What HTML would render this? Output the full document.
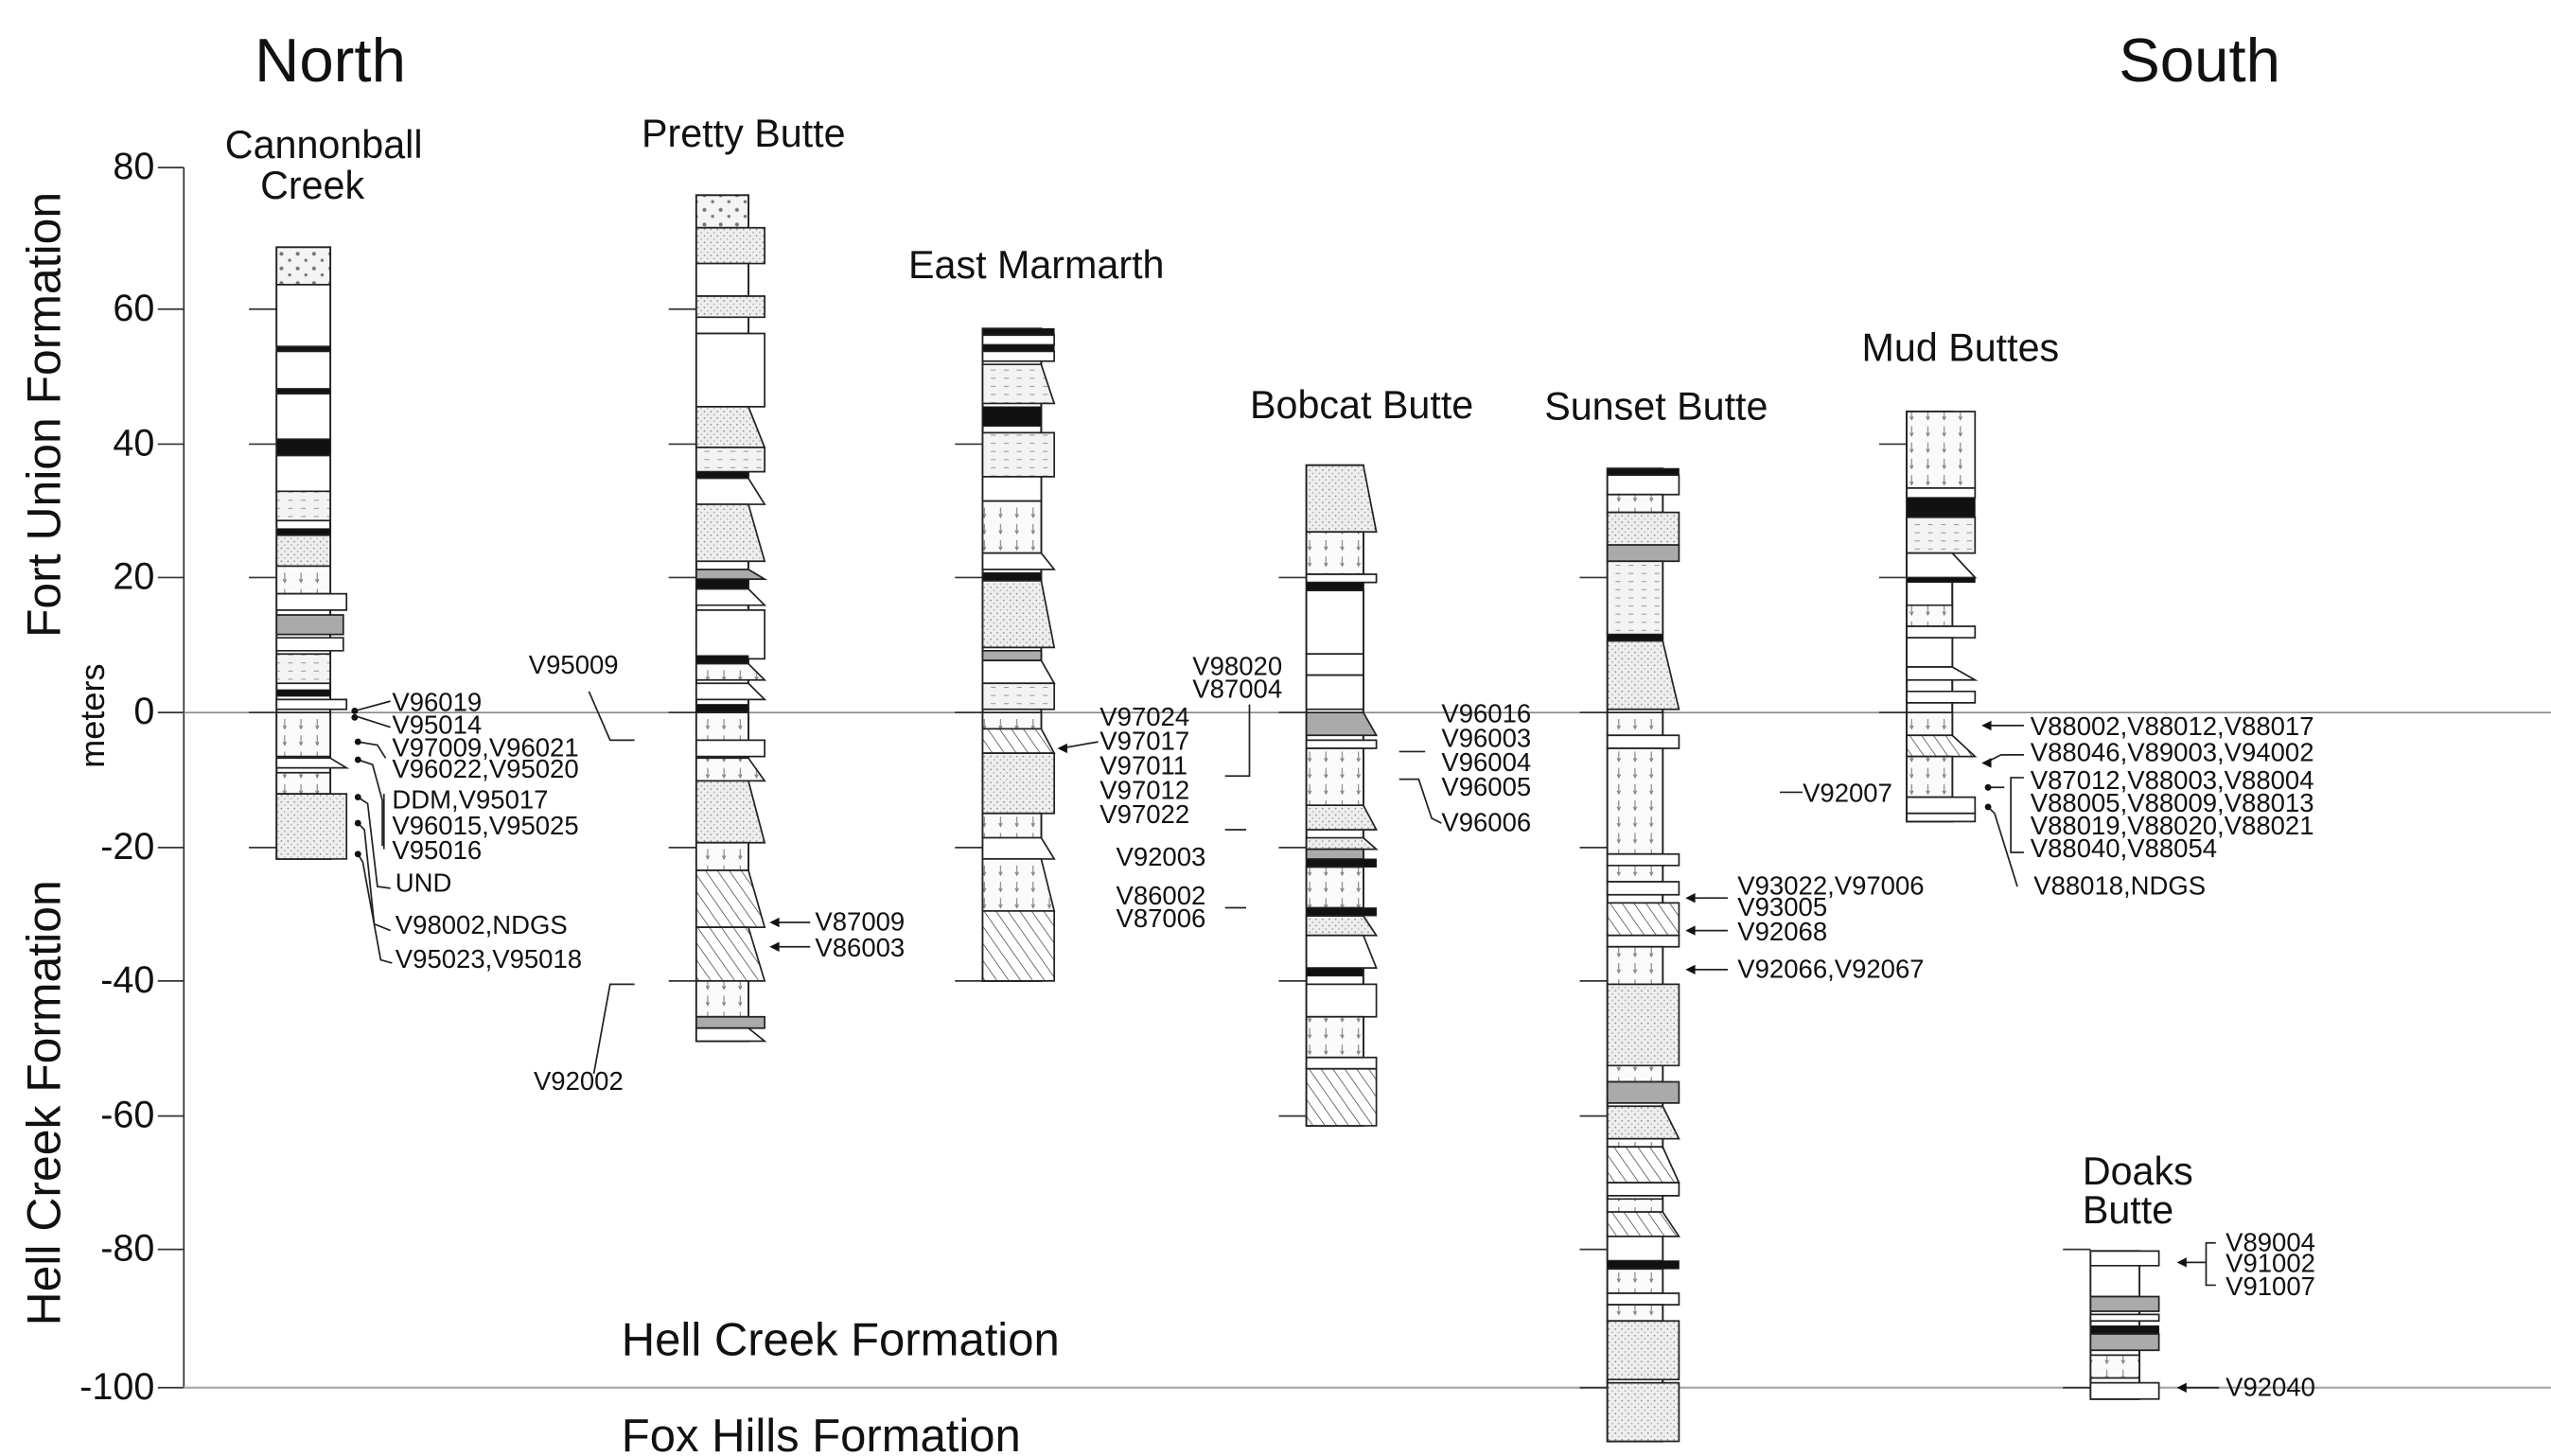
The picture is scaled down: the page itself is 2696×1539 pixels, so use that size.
<!DOCTYPE html>
<html><head><meta charset="utf-8"><style>
html,body{margin:0;padding:0;background:#fff;}
svg{display:block;}
text{font-family:"Liberation Sans",Arial,sans-serif;fill:#111;}
</style></head><body>
<svg id="s" width="2696" height="1539" viewBox="0 0 1568 895" preserveAspectRatio="none" xmlns="http://www.w3.org/2000/svg">
<defs>
<pattern id="st" width="4" height="4" patternUnits="userSpaceOnUse"><rect width="4" height="4" fill="#eee"/><circle cx="1" cy="1" r="0.5" fill="#888"/><circle cx="3" cy="3" r="0.5" fill="#aaa"/></pattern>
<pattern id="cg" width="10" height="9" patternUnits="userSpaceOnUse"><rect width="10" height="9" fill="#f4f4f4"/><circle cx="3" cy="3" r="1.2" fill="#777"/><circle cx="8" cy="7" r="1" fill="#777"/></pattern>
<pattern id="ht" width="6" height="6" patternUnits="userSpaceOnUse" patternTransform="rotate(-35)"><rect width="6" height="6" fill="#fff"/><line x1="0" y1="0" x2="0" y2="6" stroke="#333" stroke-width="0.8"/></pattern>
<pattern id="rt" width="10" height="10" patternUnits="userSpaceOnUse"><rect width="10" height="10" fill="#fafafa"/><line x1="5" y1="2" x2="5" y2="7" stroke="#777" stroke-width="0.6"/><path d="M4 6 L5 8 L6 6" fill="none" stroke="#777" stroke-width="0.6"/></pattern>
<pattern id="ds" width="8" height="5" patternUnits="userSpaceOnUse"><rect width="8" height="5" fill="#f3f3f3"/><line x1="1" y1="2.5" x2="4" y2="2.5" stroke="#999" stroke-width="0.6"/></pattern>
</defs>
<rect width="1568" height="895" fill="#fff"/>
<g stroke="#333" stroke-width="1" fill="none">
<line x1="113" y1="103" x2="113" y2="853"/>
<line x1="97" y1="103" x2="113" y2="103"/><line x1="97" y1="190" x2="113" y2="190"/><line x1="97" y1="273" x2="113" y2="273"/><line x1="97" y1="355" x2="113" y2="355"/><line x1="97" y1="438" x2="113" y2="438"/><line x1="97" y1="521" x2="113" y2="521"/><line x1="97" y1="603" x2="113" y2="603"/><line x1="97" y1="686" x2="113" y2="686"/><line x1="97" y1="768" x2="113" y2="768"/><line x1="97" y1="853" x2="113" y2="853"/>
</g>
<line x1="113" y1="438" x2="1568" y2="438" stroke="#888" stroke-width="0.9"/>
<line x1="113" y1="853" x2="1568" y2="853" stroke="#aaa" stroke-width="1.3"/>
<g font-size="23" text-anchor="end">
<text x="95" y="110">80</text><text x="95" y="197">60</text><text x="95" y="280">40</text><text x="95" y="362">20</text><text x="95" y="445">0</text><text x="95" y="528">-20</text><text x="95" y="610">-40</text><text x="95" y="693">-60</text><text x="95" y="775">-80</text><text x="95" y="860">-100</text>
</g>
<text transform="translate(37,255) rotate(-90)" font-size="29" text-anchor="middle">Fort Union Formation</text>
<text transform="translate(37,678) rotate(-90)" font-size="29" text-anchor="middle">Hell Creek Formation</text>
<text transform="translate(64,440) rotate(-90)" font-size="21" text-anchor="middle">meters</text>
<text x="203" y="50" font-size="38" text-anchor="middle">North</text>
<text x="1352" y="50" font-size="38" text-anchor="middle">South</text>
<g font-size="24" text-anchor="middle">
<text x="199" y="97">Cannonball</text><text x="192" y="122">Creek</text>
<text x="457" y="90">Pretty Butte</text>
<text x="637" y="171">East Marmarth</text>
<text x="837" y="257">Bobcat Butte</text>
<text x="1018" y="258">Sunset Butte</text>
<text x="1205" y="222">Mud Buttes</text>
</g>
<text x="1280" y="728" font-size="24">Doaks</text><text x="1280" y="752" font-size="24">Butte</text>
<text x="382" y="833" font-size="28.5">Hell Creek Formation</text>
<text x="382" y="892" font-size="28.5">Fox Hills Formation</text>
<g id="cols"></g>
<g font-size="16">
<text x="241" y="437">V96019</text><text x="241" y="451">V95014</text>
<text x="241" y="465">V97009,V96021</text><text x="241" y="478">V96022,V95020</text>
<text x="241" y="497">DDM,V95017</text><text x="241" y="513">V96015,V95025</text><text x="241" y="528">V95016</text>
<text x="243" y="548">UND</text><text x="243" y="574">V98002,NDGS</text><text x="243" y="595">V95023,V95018</text>
<text x="325" y="414">V95009</text><text x="328" y="670">V92002</text>
<text x="501" y="572">V87009</text><text x="501" y="588">V86003</text>
<text x="676" y="446">V97024</text><text x="676" y="461">V97017</text><text x="676" y="476">V97011</text><text x="676" y="491">V97012</text><text x="676" y="506">V97022</text>
<text x="686" y="532">V92003</text><text x="686" y="556">V86002</text><text x="686" y="570">V87006</text>
<text x="733" y="415">V98020</text><text x="733" y="429">V87004</text>
<text x="886" y="444">V96016</text><text x="886" y="459">V96003</text><text x="886" y="474">V96004</text><text x="886" y="489">V96005</text><text x="886" y="511">V96006</text>
<text x="1068" y="550">V93022,V97006</text><text x="1068" y="563">V93005</text><text x="1068" y="578">V92068</text><text x="1068" y="601">V92066,V92067</text>
<text x="1108" y="493">V92007</text>
<text x="1248" y="452">V88002,V88012,V88017</text><text x="1248" y="468">V88046,V89003,V94002</text>
<text x="1248" y="485">V87012,V88003,V88004</text><text x="1248" y="499">V88005,V88009,V88013</text><text x="1248" y="513">V88019,V88020,V88021</text><text x="1248" y="527">V88040,V88054</text>
<text x="1250" y="550">V88018,NDGS</text>
<text x="1368" y="769">V89004</text><text x="1368" y="782">V91002</text><text x="1368" y="796">V91007</text>
<text x="1368" y="858">V92040</text>
</g>
<g stroke="#222" stroke-width="1" fill="none">
<path d="M218 437 L240 431"/><path d="M218 440 L240 447"/>
<path d="M220 456 L232 458 L237 466"/><path d="M220 467 L229 470 L235 492 L235 520"/>
<path d="M220 490 L226 494 L232 545 L240 546"/><path d="M220 506 L224 510 L230 568 L240 572"/><path d="M220 525 L223 530 L234 590 L241 592"/>
<path d="M236 488 L236 522"/>
<path d="M362 425 L375 455 L390 455"/><path d="M365 660 L375 605 L390 605"/>
<path d="M475 567 L498 567"/><path d="M475 582 L498 582"/>
<path d="M652 460 L675 456"/>
<path d="M768 433 L768 477 L753 477"/><path d="M753 510 L766 510"/><path d="M753 558 L766 558"/>
<path d="M860 462 L876 462"/><path d="M860 479 L872 479 L880 503 L886 506"/>
<path d="M1038 552 L1062 552"/><path d="M1038 572 L1062 572"/><path d="M1038 596 L1062 596"/>
<path d="M1094 487 L1108 487"/>
<path d="M1220 446 L1244 446"/><path d="M1220 469 L1230 464 L1244 464"/>
<path d="M1222 484 L1232 484"/><path d="M1222 496 L1226 500 L1240 545"/>
<path d="M1244 478 L1236 478 L1236 524 L1244 524"/>
<path d="M1340 776 L1356 776"/><path d="M1362 764 L1356 764 L1356 790 L1362 790"/>
<path d="M1340 853 L1364 853"/>
</g>
<g fill="#111">
<circle cx="218" cy="437" r="2"/><circle cx="218" cy="441" r="2"/><circle cx="220" cy="456" r="2"/><circle cx="220" cy="467" r="2"/><circle cx="220" cy="490" r="2"/><circle cx="220" cy="506" r="2"/><circle cx="220" cy="525" r="2"/>
<path d="M473 567 l6 -3 v6z"/><path d="M473 582 l6 -3 v6z"/><path d="M650 460 l6 -3 v6z"/>
<path d="M1036 552 l6 -3 v6z"/><path d="M1036 572 l6 -3 v6z"/><path d="M1036 596 l6 -3 v6z"/>
<path d="M1218 446 l6 -3 v6z"/><path d="M1218 469 l6 -3 v6z"/><circle cx="1222" cy="484" r="2"/><circle cx="1222" cy="496" r="2"/>
<path d="M1338 776 l6 -3 v6z"/><path d="M1338 853 l6 -3 v6z"/>
</g>
</svg>
<script>
var NS="http://www.w3.org/2000/svg",g=document.getElementById("cols");
function el(t,a){var e=document.createElementNS(NS,t);for(var k in a)e.setAttribute(k,a[k]);g.appendChild(e);return e;}
var F={w:"#fff",s:"url(#st)",c:"url(#cg)",h:"url(#ht)",r:"url(#rt)",d:"url(#ds)",k:"#111",g:"#aaa"};
var C=[
[170,33,[190,273,355,438,521],[[152,175,0,'c'],[175,213,0,'w'],[213,216,0,'k'],[216,239,0,'w'],[239,242,0,'k'],[242,270,0,'w'],[270,280,0,'k'],[280,302,0,'w'],[302,320,0,'d'],[325,329,0,'k'],[329,348,0,'s'],[348,365,0,'r'],[365,375,10,'w'],[378,390,8,'g'],[392,400,8,'w'],[402,420,0,'d'],[424,428,0,'k'],[430,436,10,'w'],[438,465,0,'r'],[466,472,10,'w',1],[475,488,0,'r'],[488,528,10,'s']]],
[428,32,[190,273,355,438,521,603],[[120,140,0,'c'],[140,162,10,'s'],[162,182,0,'w'],[182,195,10,'s'],[195,205,0,'w'],[205,250,10,'w'],[250,275,10,'s',1],[275,290,10,'d'],[290,294,0,'k'],[294,310,10,'w',1],[310,345,10,'s',1],[350,356,10,'g',1],[356,362,0,'k'],[362,372,10,'w',1],[375,405,10,'w'],[403,408,0,'k'],[408,418,10,'r',1],[420,430,10,'w',1],[433,438,0,'k'],[438,455,0,'r'],[455,465,10,'w'],[466,480,10,'r',1],[480,518,10,'s',1],[518,535,0,'r'],[535,570,10,'h',1],[570,603,10,'h',1],[603,625,0,'r'],[625,632,10,'g'],[632,640,10,'w',1]]],
[604,36,[273,355,438,521,603],[[202,206,8,'k'],[206,212,8,'w'],[212,216,8,'k'],[216,222,8,'w'],[224,248,8,'d',1],[250,262,0,'k'],[266,293,8,'d'],[293,308,0,'w'],[308,340,0,'r'],[340,350,8,'w',1],[352,357,0,'k'],[357,398,8,'s',1],[400,406,0,'g'],[406,420,8,'w',1],[420,436,8,'d'],[438,448,0,'r'],[448,463,8,'h',1],[463,500,8,'s'],[500,515,0,'r'],[515,528,8,'w',1],[528,560,8,'r',1],[560,603,8,'h']]],
[803,35,[355,438,521,603,686],[[286,327,8,'s',1],[327,353,0,'r'],[353,358,8,'w'],[358,363,0,'k'],[363,402,0,'w'],[402,415,0,'w'],[415,436,0,'w'],[438,452,8,'g',1],[455,460,8,'w'],[460,495,0,'r'],[495,510,8,'s',1],[515,522,8,'s',1],[522,528,0,'g'],[528,533,8,'k'],[533,558,0,'r'],[558,563,8,'k'],[563,575,8,'s',1],[575,595,8,'w',1],[595,600,0,'k'],[605,625,8,'w'],[625,650,0,'r'],[650,657,8,'w'],[657,692,8,'h']]],
[988,34,[355,438,521,603,686,768,853],[[288,292,10,'k'],[292,304,10,'w'],[304,315,0,'r'],[315,335,10,'s'],[335,345,10,'g'],[345,390,0,'d'],[390,394,0,'k'],[394,436,10,'s',1],[438,452,0,'r'],[452,460,10,'w'],[460,525,0,'r'],[525,532,10,'w'],[532,542,0,'r'],[542,550,10,'w'],[555,575,10,'h'],[575,582,10,'w'],[582,605,0,'r'],[605,655,10,'s'],[655,665,0,'r'],[665,678,10,'g'],[680,700,10,'s',1],[700,705,0,'r'],[705,727,10,'h',1],[727,735,10,'w'],[737,745,0,'r'],[745,760,10,'h',1],[760,775,0,'w'],[775,780,10,'k'],[780,795,0,'r'],[795,802,10,'w'],[802,812,0,'r'],[812,848,10,'s'],[850,886,10,'s']]],
[1172,28,[273,355,438],[[253,300,14,'r'],[300,306,14,'w'],[306,318,14,'k'],[318,340,14,'d'],[340,355,14,'w',1],[355,358,14,'k'],[372,385,0,'r'],[385,392,14,'w'],[392,410,0,'w'],[410,418,14,'w',1],[425,432,14,'w'],[438,452,0,'r'],[452,465,14,'h',1],[465,490,0,'r'],[490,500,14,'w'],[500,505,14,'w']]],
[1285,30,[768,853],[[769,778,12,'w'],[778,797,0,'w'],[797,806,12,'g'],[808,812,12,'w'],[815,820,12,'k'],[820,830,12,'g'],[833,847,0,'r'],[850,860,12,'w']]]
];
C.forEach(function(c){var x=c[0],w=c[1];var top=c[3][0][0],bot=c[3][c[3].length-1][1];
c[2].forEach(function(t){el("line",{x1:x-17,y1:t,x2:x,y2:t,stroke:"#333","stroke-width":1});});
el("rect",{x:x,y:top,width:w,height:bot-top,fill:"#fff",stroke:"#222","stroke-width":1.2});
c[3].forEach(function(b){var y1=b[0],y2=b[1],e=b[2],ww=w+e,p;
if(b[4]){p="M"+x+" "+y1+" L"+(x+w)+" "+y1+" L"+(x+ww)+" "+y2+" L"+x+" "+y2+"Z";}
else p="M"+x+" "+y1+" H"+(x+ww)+" V"+y2+" H"+x+"Z";
el("path",{d:p,fill:F[b[3]],stroke:"#222","stroke-width":b[3]=='k'?0.5:1});});
});
</script>
</body></html>
